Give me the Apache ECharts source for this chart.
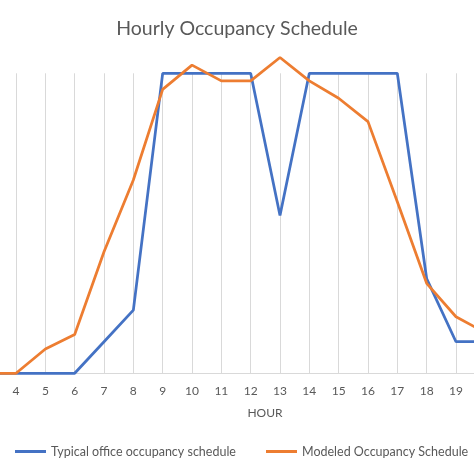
<!DOCTYPE html>
<html>
<head>
<meta charset="utf-8">
<script src="https://cdn.jsdelivr.net/npm/echarts@6/dist/echarts.min.js"></script>
<style>
html,body{margin:0;padding:0;background:#fff;}
#c{width:474px;height:474px;}
</style>
</head>
<body>
<div id="c"></div>
<script>
var hours = ['3','4','5','6','7','8','9','10','11','12','13','14','15','16','17','18','19','20'];
var typicalOffice = [0,0,0,0,0.1,0.2,0.95,0.95,0.95,0.95,0.5,0.95,0.95,0.95,0.95,0.3,0.1,0.1];
var modeledOccupancy = [0,0,0.077,0.123,0.385,0.612,0.899,0.976,0.926,0.926,1.0,0.926,0.871,0.797,0.543,0.285,0.179,0.129];
var seriesNames = ['Typical office occupancy schedule','Modeled Occupancy Schedule'];

var legendBase = {
  itemWidth:31,
  itemHeight:3,
  itemGap:0,
  padding:0,
  icon:'rect',
  top:445,
  textStyle:{fontFamily:'Lato',fontSize:12.5,color:'#595959'}
};

var chart = echarts.init(document.getElementById('c'));
chart.setOption({
  backgroundColor:'#ffffff',
  animation:false,
  title:{
    text:'Hourly Occupancy Schedule',
    left:'center',
    top:14,
    textStyle:{fontFamily:'Lato',fontSize:19.5,fontWeight:'normal',color:'#595959'}
  },
  graphic:[{
    type:'text',
    x:265, y:413,
    style:{text:'HOUR',fill:'#595959',font:'12px Lato',textAlign:'center',textVerticalAlign:'middle'}
  }],
  legend:[
    Object.assign({}, legendBase, {data:[seriesNames[0]], left:15}),
    Object.assign({}, legendBase, {data:[seriesNames[1]], left:266})
  ],
  grid:{left:-13.3,right:-11.3,top:73.3,bottom:100.7,containLabel:false,outerBoundsMode:'none'},
  xAxis:{
    type:'category',
    data:hours,
    boundaryGap:false,
    axisLine:{show:true,lineStyle:{color:'#d9d9d9',width:1}},
    axisTick:{show:false},
    axisLabel:{color:'#595959',fontFamily:'Lato',fontSize:12,margin:12,
      interval:function(i){return i>0 && i<hours.length-1;}},
    splitLine:{show:true,interval:0,lineStyle:{color:'#d9d9d9',width:1}}
  },
  yAxis:{
    type:'value',
    min:0,
    max:0.95,
    show:false,
    splitLine:{show:false}
  },
  series:[
    {name:seriesNames[0],type:'line',data:typicalOffice,symbol:'none',clip:false,
     lineStyle:{color:'#4472C4',width:2.75},itemStyle:{color:'#4472C4'}},
    {name:seriesNames[1],type:'line',data:modeledOccupancy,symbol:'none',clip:false,
     lineStyle:{color:'#ED7D31',width:2.75},itemStyle:{color:'#ED7D31'}}
  ]
});
</script>
</body>
</html>
